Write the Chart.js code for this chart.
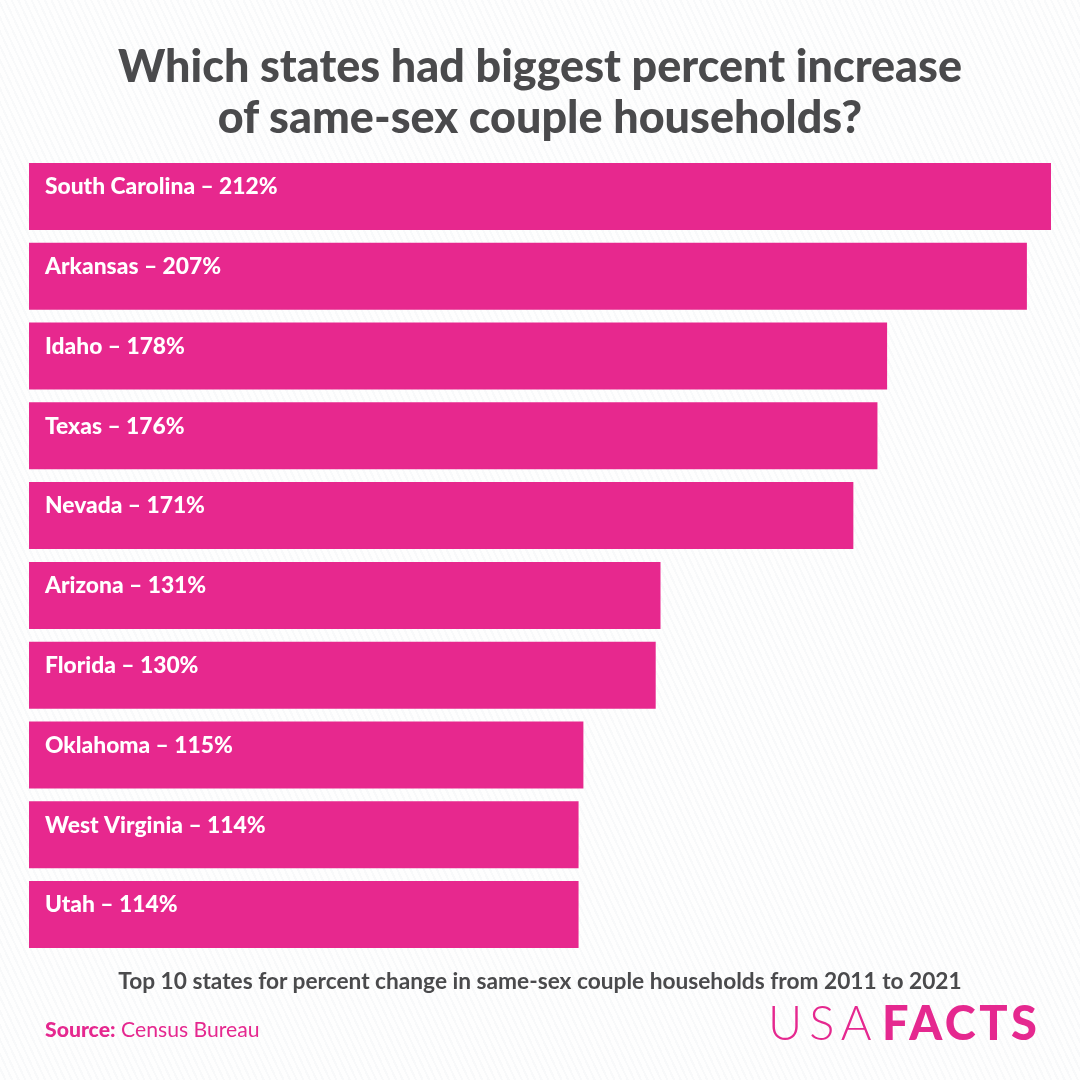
<!DOCTYPE html>
<html>
<head>
<meta charset="utf-8">
<script src="https://cdn.jsdelivr.net/npm/chart.js@4"></script>
<style>
  html, body { margin: 0; padding: 0; background: #fdfdfe; }
  #wrap { position: relative; width: 1080px; height: 1080px; overflow: hidden; font-family: Lato, sans-serif;
    background: repeating-linear-gradient(65deg, #fefefe 0 4px, #f8f9fa 4px 6px); }
  #title { position: absolute; left: 0; top: 40px; width: 1080px; text-align: center; font-size: 44.9px; line-height: 51px; font-weight: 900; color: #4a4a4c; }
  #sub { position: absolute; left: 0; top: 967px; width: 1080px; text-align: center; font-size: 22.7px; font-weight: 700; color: #4a4a4c; }
  #source { position: absolute; left: 45px; top: 1016px; font-size: 21.2px; color: #e5288f; }
  #source b { font-weight: 900; }
  #usa { position: absolute; left: 768px; top: 995px; font-size: 47px; line-height: 54px; color: #e5288f; letter-spacing: 7px; font-weight: 300; }
  #facts { position: absolute; left: 882px; top: 995px; font-size: 47px; line-height: 54px; color: #e5288f; letter-spacing: 3.5px; font-weight: 900; }
  canvas { position: absolute; left: 0; top: 0; }
</style>
</head>
<body>
<div id="wrap">
  <canvas id="grafico" width="1080" height="1080"></canvas>
  <div id="title">Which states had biggest percent increase<br>of same-sex couple households?</div>
  <div id="sub">Top 10 states for percent change in same-sex couple households from 2011 to 2021</div>
  <div id="source"><b>Source:</b> Census Bureau</div>
  <div id="usa">USA</div>
  <div id="facts">FACTS</div>
</div>
<script>
const estados = ['South Carolina', 'Arkansas', 'Idaho', 'Texas', 'Nevada', 'Arizona', 'Florida', 'Oklahoma', 'West Virginia', 'Utah'];
const valores = [212, 207, 178, 176, 171, 131, 130, 115, 114, 114];

// rotulo dentro da barra, no canto superior esquerdo
const rotulos = {
  id: 'rotulos',
  afterDatasetsDraw(chart) {
    const ctx = chart.ctx;
    const meta = chart.getDatasetMeta(0);
    ctx.save();
    ctx.fillStyle = '#ffffff';
    ctx.font = '900 22.8px Lato';
    ctx.textBaseline = 'middle';
    meta.data.forEach((barra, i) => {
      ctx.fillText(`${estados[i]} – ${valores[i]}%`, barra.base + 16, barra.y - 9.5);
    });
    ctx.restore();
  }
};

new Chart(document.getElementById('grafico'), {
  type: 'bar',
  data: {
    labels: estados,
    datasets: [{
      data: valores,
      backgroundColor: '#e7288e',
      borderWidth: 0,
      categoryPercentage: 1,
      barPercentage: 0.84,
    }],
  },
  options: {
    indexAxis: 'y',
    responsive: false,
    animation: false,
    layout: { padding: { left: 29, right: 29, top: 156.6, bottom: 125.6 } },
    plugins: { legend: { display: false }, tooltip: { enabled: false } },
    scales: {
      x: { display: false, min: 0, max: 212 },
      y: { display: false },
    },
  },
  plugins: [rotulos],
});
</script>
</body>
</html>
